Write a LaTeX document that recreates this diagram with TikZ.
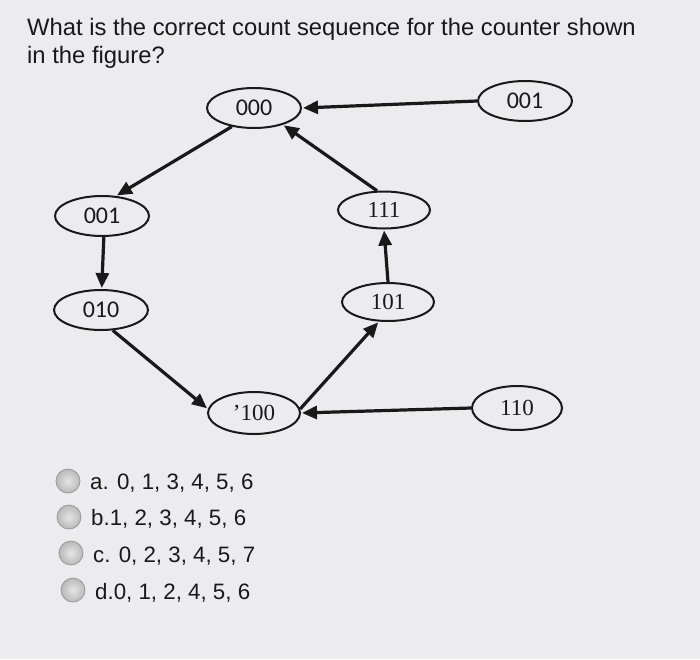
\documentclass[tikz,border=0pt]{standalone}
\usepackage{fontspec}
\setmainfont{Liberation Sans}
\newfontfamily\calib{Carlito}
\newfontfamily\serifd{Liberation Serif}
\usetikzlibrary{shapes.geometric,arrows.meta}
\definecolor{bgc}{RGB}{236,236,238}
\definecolor{ink}{RGB}{25,25,25}
\begin{document}
\begin{tikzpicture}[x=1pt,y=-1pt,
  st/.style={draw=ink,line width=2pt,ellipse,inner sep=0pt,minimum width=94pt,minimum height=40pt,font=\calib\fontsize{24}{24}\selectfont,text=ink},
  sts/.style={st,font=\serifd\fontsize{23}{23}\selectfont},
  arr/.style={draw=ink,line width=3.2pt,-{Triangle[length=15pt,width=13pt]},shorten >=1pt},
  opt/.style={circle,minimum size=24pt,inner sep=0pt,draw=gray!80,line width=0.8pt,inner color=gray!20,outer color=gray!55},
  optt/.style={anchor=base west,font=\fontsize{22.3}{22.3}\selectfont,text=ink,inner sep=0pt}]
\fill[bgc] (0,0) rectangle (700,659);
\useasboundingbox (0,0) rectangle (700,659);
\node[anchor=base west,inner sep=0pt,font=\fontsize{23.8}{23.8}\selectfont,text=ink] (t1) at (27,35) {What is the correct count sequence for the counter shown};
\node[anchor=base west,inner sep=0pt,font=\fontsize{23.8}{23.8}\selectfont,text=ink] (t2) at (27,63) {in the figure?};
\node[st] (s000) at (254,108) {000};
\node[st] (s001r) at (525,101) {001};
\node[st] (s001l) at (102,216) {001};
\node[st] (s010) at (101,310) {010};
\node[sts,minimum width=92pt,minimum height=37pt] (s111) at (384,210) {111};
\node[sts,minimum width=92pt,minimum height=38pt] (s101) at (388,302) {101};
\node[sts,minimum width=92pt,minimum height=42pt] (s100) at (254,413) {\textquoteright100};
\node[sts,minimum width=90pt,minimum height=44pt] (s110) at (517,408) {110};
\draw[arr] (s001r.west) -- (s000.east);
\draw[arr] (s111.110) -- (s000.-30);
\draw[arr] (s000.-140) -- (s001l.55);
\draw[arr] (s001l.-85) -- (s010.88);
\draw[arr] (s010.-60) -- (s100.175);
\draw[arr] (s100.5) -- (s101.-115);
\draw[arr] (s101.90) -- (s111.90 |- s111.south);
\draw[arr] (s110.west) -- (s100.east);
\node[opt] (o1) at (68,481) {};
\node[opt] (o2) at (69,517) {};
\node[opt] (o3) at (71,553) {};
\node[opt] (o4) at (73,590) {};
\node[optt] (l1) at (90,489) {a. 0, 1, 3, 4, 5, 6};
\node[optt] (l2) at (91,525) {b.1, 2, 3, 4, 5, 6};
\node[optt] (l3) at (93,562) {c. 0, 2, 3, 4, 5, 7};
\node[optt] (l4) at (95,599) {d.0, 1, 2, 4, 5, 6};
\end{tikzpicture}
\end{document}
